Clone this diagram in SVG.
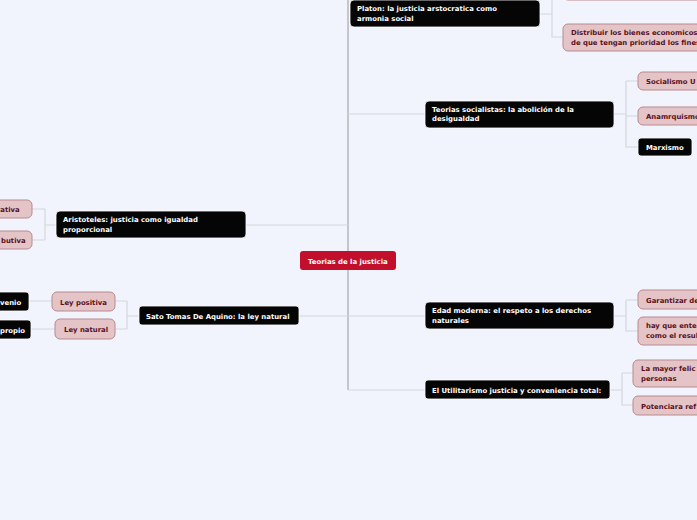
<svg xmlns="http://www.w3.org/2000/svg" width="697" height="520" viewBox="0 0 697 520">
<style>
.b rect{fill:#050505;stroke:#ffffff;stroke-width:0.8}
.p rect{fill:#e4c4c6;stroke:#b88a8e;stroke-width:1}
.r rect{fill:#c10f2c}
text{font-family:"DejaVu Sans",sans-serif;font-weight:bold;font-size:6.9px}
.b text,.r text{fill:#fff}
.p text{fill:#5a1020}
.c path{fill:none;stroke:#d4d6dc;stroke-width:1.2}
</style>
<rect width="697" height="520" fill="#f2f4fd"/>
<g class="c">
<path d="M348 0V390" style="stroke:#b6b6ba;stroke-width:1.5"/>
<path d="M348 14H540M348 114H425M348 225H246M348 316H299M348 316H425M348 390H425"/>
<path d="M540 14H552M552 0V37H563"/>
<path d="M614 114H626M626 81V147H638M626 116H638M626 81H638"/>
<path d="M56 225H45M45 209V240M45 209H32M45 240H32"/>
<path d="M139 316H127M127 301V329M127 301H115M127 329H115M52 301H29M55 329H31"/>
<path d="M614 316H626M626 300V331H638M626 300H638"/>
<path d="M610 390H622M622 373V405H633M622 373H633"/>
</g>
<g id="top" class="p"><rect x="563" y="-30" width="150" height="30" rx="5"/></g>
<g id="root" class="r"><rect x="300" y="251" width="96" height="19" rx="3"/><text x="308" y="263.5">Teorias de la justicia</text></g>
<g id="platon" class="b"><rect x="350" y="0" width="190" height="27" rx="4"/><text x="357" y="10.5">Platon: la justicia arstocratica como</text><text x="357" y="20.5">armonia social</text></g>
<g id="distribuir" class="p"><rect x="563" y="24" width="150" height="27" rx="5"/><text x="571" y="35">Distribuir los bienes economicos</text><text x="571" y="45">de que tengan prioridad los fines</text></g>
<g id="socialistas" class="b"><rect x="425" y="101" width="189" height="27" rx="4"/><text x="432" y="111.5">Teorias socialistas: la abolición de la</text><text x="432" y="121">desigualdad</text></g>
<g id="utopico" class="p"><rect x="638" y="72" width="80" height="18" rx="5"/><text x="646" y="84">Socialismo U</text></g>
<g id="anarquismo" class="p"><rect x="638" y="107" width="80" height="18" rx="5"/><text x="646" y="119">Anamrquismo</text></g>
<g id="marxismo" class="b"><rect x="638" y="138" width="54" height="18" rx="3"/><text x="646" y="150">Marxismo</text></g>
<g id="aristoteles" class="b"><rect x="56" y="211" width="190" height="27" rx="4"/><text x="63" y="222">Aristoteles: justicia como igualdad</text><text x="63" y="232">proporcional</text></g>
<g id="conmutativa" class="p"><rect x="-40" y="200" width="72" height="18" rx="5"/><text x="-3" y="212">tativa</text></g>
<g id="distributiva" class="p"><rect x="-40" y="231" width="72" height="18" rx="5"/><text x="1" y="243">butiva</text></g>
<g id="tomas" class="b"><rect x="139" y="306" width="160" height="19" rx="3"/><text x="146" y="318.5">Sato Tomas De Aquino: la ley natural</text></g>
<g id="positiva" class="p"><rect x="52" y="292" width="63" height="19" rx="5"/><text x="60" y="304.5">Ley positiva</text></g>
<g id="natural" class="p"><rect x="55" y="319" width="60" height="20" rx="5"/><text x="64" y="332">Ley natural</text></g>
<g id="convenio" class="b"><rect x="-40" y="292" width="69" height="19" rx="3"/><text x="0" y="304.5">venio</text></g>
<g id="propio" class="b"><rect x="-40" y="320" width="71" height="19" rx="3"/><text x="0" y="332.5">propio</text></g>
<g id="moderna" class="b"><rect x="425" y="302" width="189" height="27" rx="4"/><text x="432" y="313">Edad moderna: el respeto a los derechos</text><text x="432" y="323">naturales</text></g>
<g id="garantizar" class="p"><rect x="638" y="290" width="80" height="19" rx="5"/><text x="646" y="302.5">Garantizar de</text></g>
<g id="hay" class="p"><rect x="638" y="317" width="80" height="28" rx="5"/><text x="646" y="328">hay que ente</text><text x="646" y="338">como el resul</text></g>
<g id="utilitarismo" class="b"><rect x="425" y="380" width="185" height="19" rx="3"/><text x="432" y="392.5">El Utilitarismo justicia y conveniencia total:</text></g>
<g id="mayor" class="p"><rect x="633" y="360" width="85" height="27" rx="5"/><text x="641" y="371">La mayor felic</text><text x="641" y="381">personas</text></g>
<g id="potenciara" class="p"><rect x="633" y="396" width="85" height="19" rx="5"/><text x="641" y="408.5">Potenciara ref</text></g>
</svg>
